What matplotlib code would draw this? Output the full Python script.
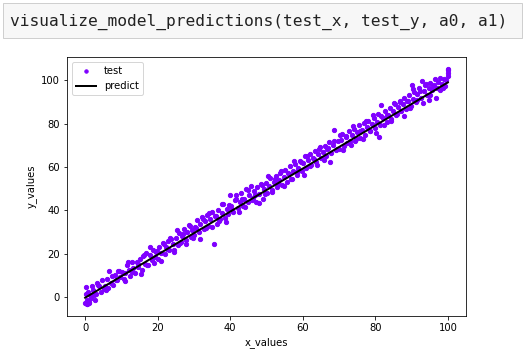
import numpy as np
import matplotlib.pyplot as plt
from matplotlib.patches import Rectangle

# values
test_x = np.array([
    0.0, 0.2, 0.3, 0.4, 0.5, 0.6, 0.8, 1.0, 1.1, 1.3, 1.6, 2.1, 2.5, 3.0, 3.4, 3.9, 4.3, 4.6,
    5.2, 5.5, 6.1, 6.4, 7.0, 7.3, 7.8, 8.2, 8.9, 9.3, 9.7,
    10.2, 10.6, 11.1, 11.5, 12.0, 12.4, 12.9, 13.3, 13.8, 14.2, 14.7, 15.1, 15.6, 16.0, 16.5,
    16.9, 17.4, 17.8, 18.3, 18.7, 19.2, 19.6,
    20.1, 20.5, 21.0, 21.4, 21.9, 22.3, 22.8, 23.2, 23.7, 24.1, 24.6, 25.0, 25.5, 25.9, 26.4,
    26.8, 27.3, 27.7, 28.2, 28.6, 29.1, 29.5,
    30.0, 30.4, 30.9, 31.3, 31.8, 32.2, 32.7, 33.1, 33.6, 34.0, 34.5, 34.9, 35.4, 35.8, 36.3,
    36.7, 37.2, 37.6, 38.1, 38.5, 39.0, 39.4,
    39.9, 40.3, 40.8, 41.2, 41.7, 42.1, 42.6, 43.0, 43.5, 43.9, 44.4, 44.8, 45.3, 45.7, 46.2,
    46.6, 47.1, 47.5, 48.0, 48.4, 48.9, 49.3,
    49.8, 50.2, 50.7, 51.1, 51.6, 52.0, 52.5, 52.9, 53.4, 53.8, 54.3, 54.7, 55.2, 55.6, 56.1,
    56.5, 57.0, 57.4, 57.9, 58.3, 58.8, 59.2,
    59.7, 60.1, 60.6, 61.0, 61.5, 61.9, 62.4, 62.8, 63.3, 63.7, 64.2, 64.6, 65.1, 65.5, 66.0,
    66.4, 66.9, 67.3, 67.8, 68.2, 68.7, 69.1,
    69.6, 70.0, 70.5, 70.9, 71.4, 71.8, 72.3, 72.7, 73.2, 73.6, 74.1, 74.5, 75.0, 75.4, 75.9,
    76.3, 76.8, 77.2, 77.7, 78.1, 78.6, 79.0,
    79.5, 79.9, 80.4, 80.8, 81.0, 81.3, 81.7, 82.2, 82.6, 83.1, 83.5, 84.0, 84.4, 84.9, 85.3,
    85.8, 86.2, 86.7, 87.1, 87.6, 88.0, 88.5, 88.9, 89.4, 89.8,
    90.0, 90.3, 90.7, 91.2, 91.6, 92.1, 92.5, 92.8, 93.4, 93.8, 94.3, 94.7, 94.9, 95.2, 95.6,
    96.1, 96.5, 97.0, 97.4, 97.9, 98.3, 98.8, 99.2, 99.6, 99.9, 100.0, 100.0,
    # second pass, filling the band
    1.8, 2.8, 3.6, 5.8, 6.7, 8.5, 9.0, 10.9, 11.8, 13.0, 14.5, 15.4, 16.2, 17.1, 18.0,
    19.0, 19.9, 20.8, 21.7, 22.6, 23.5, 24.4, 25.3, 26.1, 27.0, 27.9, 28.8, 29.8, 30.7,
    31.6, 32.5, 33.4, 34.2, 35.1, 36.0, 36.9, 37.8, 38.7, 39.7, 40.6, 41.5, 42.4, 43.3,
    44.1, 45.0, 45.9, 46.8, 47.8, 48.7, 49.6, 50.5, 51.4, 52.3, 53.1, 54.0, 54.9, 55.8,
    56.8, 57.7, 58.6, 59.5, 60.4, 61.3, 62.1, 63.0, 63.9, 64.8, 65.8, 66.7, 67.6, 68.5,
    69.4, 70.3, 71.1, 72.0, 72.9, 73.8, 74.8, 75.7, 76.6, 77.5, 78.4, 79.3, 80.1, 81.5,
    82.4, 83.3, 84.2, 85.1, 86.0, 86.9, 87.8, 88.7, 89.6, 90.5, 91.4, 92.3, 93.2, 94.1,
    95.0, 95.9, 96.8, 97.7, 98.6, 100.0,
])
test_y = np.array([
    -2.8, 1.2, 4.6, -3.1, -1.5, -3.4, 2.4, -2.6, -3.0, 0.8, -0.4, 3.1, 0.9, 1.2, 6.5, 4.8, 2.2, 7.9,
    3.6, 5.0, 8.4, 4.1, 6.2, 9.5, 5.3, 10.1, 7.8, 12.0, 9.1,
    11.4, 8.3, 10.9, 14.8, 12.6, 9.7, 16.2, 13.1, 11.2, 15.9, 13.8, 17.6, 12.4, 18.9, 15.2,
    20.3, 14.7, 19.1, 16.9, 21.8, 18.4, 20.6,
    17.3, 22.9, 20.4, 24.7, 19.8, 23.1, 25.9, 21.6, 26.8, 24.2, 20.9, 27.4, 23.8, 29.6, 25.1,
    28.3, 31.2, 26.4, 29.9, 33.0, 27.5, 30.8,
    28.7, 32.4, 35.6, 29.9, 33.7, 36.8, 31.2, 34.9, 37.9, 32.6, 36.1, 39.3, 24.3, 37.4, 33.8,
    40.2, 35.9, 38.8, 43.1, 36.2, 40.7, 38.1,
    47.0, 41.9, 39.2, 44.6, 46.9, 40.8, 43.7, 47.9, 42.1, 45.3, 49.6, 43.9, 47.2, 51.4, 45.6,
    49.0, 43.6, 50.8, 47.4, 52.3, 45.1, 49.9,
    52.6, 47.8, 51.3, 54.9, 49.2, 52.8, 55.7, 50.6, 53.9, 57.2, 51.8, 55.3, 58.6, 53.1, 56.9,
    60.4, 54.2, 58.0, 61.3, 56.3, 59.5, 62.7,
    58.1, 61.6, 64.9, 59.4, 63.2, 66.1, 60.8, 64.3, 67.5, 62.2, 65.8, 68.4, 63.9, 67.0, 69.8,
    65.2, 68.6, 71.3, 66.3, 70.1, 77.1, 67.9,
    71.8, 68.4, 72.6, 75.3, 69.7, 73.9, 71.0, 76.4, 70.2, 74.8, 77.6, 72.1, 75.9, 79.2, 73.4,
    77.0, 80.1, 74.9, 78.3, 81.4, 76.5, 79.8,
    82.7, 77.9, 80.9, 84.3, 73.7, 79.4, 88.7, 82.8, 85.9, 80.6, 84.1, 87.2, 82.3, 86.0, 89.1,
    84.0, 87.5, 90.3, 85.6, 88.9, 91.6, 86.8, 90.2, 93.0, 88.3,
    98.0, 91.4, 94.6, 89.9, 93.7, 96.2, 91.8, 99.5, 94.9, 97.6, 93.1, 96.4, 90.8, 98.7, 95.3,
    97.9, 100.6, 96.6, 99.1, 95.7, 98.4, 100.8, 97.2, 99.9, 104.9, 103.2, 101.9,
    # second pass
    5.2, -1.3, 5.3, 3.2, 11.9, 7.7, 11.9, 7.2, 16.1, 11.5, 15.1, 10.4, 19.3, 14.9, 22.8,
    15.7, 21.1, 16.4, 24.2, 22.3, 27.4, 21.5, 30.8, 25.0, 29.0, 24.3, 32.9, 27.4, 31.6,
    26.9, 35.8, 31.6, 38.8, 32.1, 37.5, 34.9, 42.8, 34.7, 42.4, 40.0, 45.1, 39.0, 45.2,
    41.3, 49.5, 44.6, 47.2, 43.2, 51.7, 47.3, 55.8, 48.3, 54.5, 52.1, 58.0, 51.0, 57.2,
    54.3, 62.6, 57.9, 62.3, 56.1, 65.0, 60.2, 63.8, 60.7, 69.2, 63.1, 68.3, 62.4, 72.0,
    68.2, 74.5, 67.6, 74.4, 72.0, 78.9, 72.7, 76.8, 72.8, 81.3, 76.8, 84.0, 75.6, 83.6,
    79.5, 83.8, 81.2, 89.7, 84.6, 90.1, 83.6, 90.5, 87.0, 95.9, 91.0, 94.9, 89.6, 98.1,
    93.3, 97.2, 91.9, 101.1, 96.6, 105.3,
])
a0 = -0.4
a1 = 0.994

W, H, DPI = 524, 362, 72
fig = plt.figure(figsize=(W / DPI, H / DPI), dpi=DPI)

# notebook code cell on top
fig.patches.append(Rectangle((3 / W, 1 - 38 / H), 519 / W, 35 / H, transform=fig.transFigure,
                             facecolor='#f7f7f7', edgecolor='#cfcfcf', lw=1))
fig.text(10 / W, 1 - 26 / H, 'visualize_model_predictions(test_x, test_y, a0, a1)',
         family='DejaVu Sans Mono', fontsize=16.2, color='#222222', va='baseline')

ax = fig.add_axes([67 / W, 46 / H, 399 / W, 259 / H])
ax.scatter(test_x, test_y, color='#7f00ff', s=18, label='test', zorder=2)
ax.plot(test_x, a0 + a1 * test_x, color='black', lw=2, label='predict', zorder=3)
ax.set_xlabel('x_values', fontsize=10)
ax.set_ylabel('y_values', fontsize=10)
ax.tick_params(labelsize=10)
ax.legend(loc='upper left', fontsize=10, markerscale=0.8)

fig.savefig('out.png', dpi=DPI)
